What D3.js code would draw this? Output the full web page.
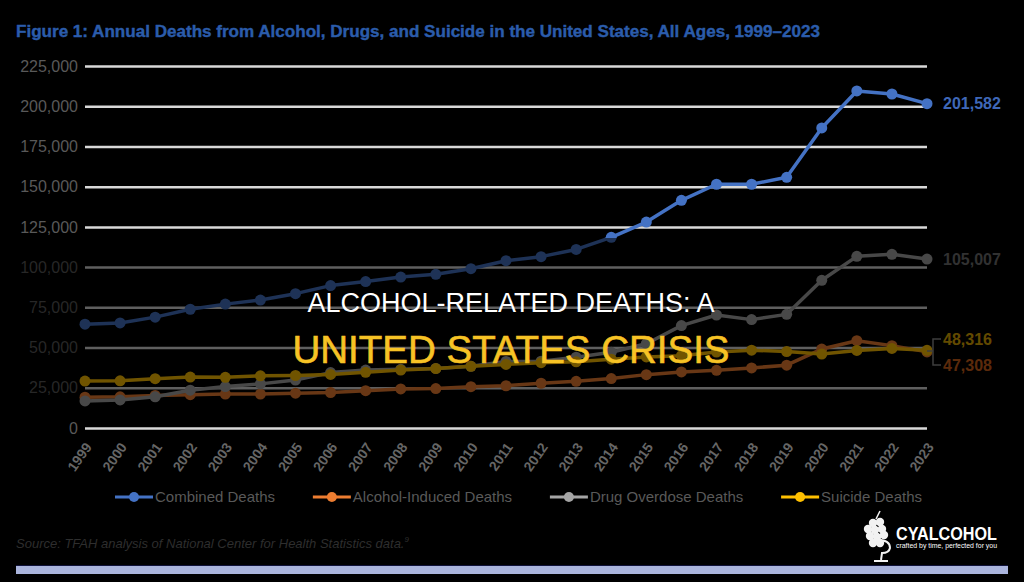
<!DOCTYPE html>
<html><head><meta charset="utf-8">
<script src="https://cdn.jsdelivr.net/npm/d3@7"></script>
<style>body{margin:0;background:#000;} svg{display:block;font-family:"Liberation Sans",Arial,sans-serif;}</style>
</head><body>
<svg id="chart" width="1024" height="582"></svg>
<script>
const years = ["1999","2000","2001","2002","2003","2004","2005","2006","2007","2008","2009","2010","2011","2012","2013","2014","2015","2016","2017","2018","2019","2020","2021","2022","2023"];
const combinedDeaths = [64500,65300,68900,73800,77000,79500,83500,88500,91000,93800,95500,99000,104000,106500,111000,118500,128000,141500,151500,151500,155800,186500,209500,207600,201582];
const alcoholDeaths = [19171,19358,20242,20698,21081,21081,21634,22073,23199,24297,24518,25692,26256,27822,29001,30722,33171,34865,35823,37329,39043,49061,54258,51191,47308];
const drugDeaths = [16849,17415,19394,23518,25785,27424,29813,34425,36010,36450,37004,38329,41340,41502,43982,47055,52404,63632,70237,67367,70630,91799,106699,107941,105007];
const suicideDeaths = [29199,29350,30622,31655,31484,32439,32637,33300,34598,36035,36909,38364,39518,40600,41149,42773,44193,44965,47173,48344,47511,45979,48183,49476,48316];
const seriesNames = ["Combined Deaths","Alcohol-Induced Deaths","Drug Overdose Deaths","Suicide Deaths"];
const seriesColors = ["#4472C4","#ED7D31","#A5A5A5","#FFC000"];
const labelColors = ["#3F68B8","#D0601A","#707070","#E0A800"];
const yTicks = [0,25000,50000,75000,100000,125000,150000,175000,200000,225000];
const titleText = "Figure 1: Annual Deaths from Alcohol, Drugs, and Suicide in the United States, All Ages, 1999\u20132023";
const sourceText = "Source: TFAH analysis of National Center for Health Statistics data.";
const headline1 = "ALCOHOL-RELATED DEATHS: A";
const headline2 = "UNITED STATES CRISIS";

const seriesData = [combinedDeaths, alcoholDeaths, drugDeaths, suicideDeaths];
const svg = d3.select("#chart");
const W = 1024, H = 582;

svg.append("rect").attr("width",W).attr("height",H).attr("fill","#000");

const x = d3.scalePoint().domain(years).range([85, 927]);
const y = d3.scaleLinear().domain([0,225000]).range([428, 66]);

// title
svg.append("text").attr("x",16).attr("y",37)
  .attr("font-size",16).attr("font-weight","bold").attr("fill","#2B5CAB")
  .attr("stroke","#2B5CAB").attr("stroke-width",0.4)
  .attr("textLength",804).attr("lengthAdjust","spacingAndGlyphs")
  .text(titleText);

// gridlines + y labels
const yAxis = d3.axisLeft(y).tickValues(yTicks).tickFormat(d3.format(",")).tickSize(-(927-85)).tickPadding(7);
const gy = svg.append("g").attr("transform","translate(85,0)").call(yAxis);
gy.select(".domain").remove();
gy.selectAll(".tick line").attr("stroke","#D9D9D9").attr("stroke-width",2.5);
gy.selectAll(".tick text").attr("fill","#595959").attr("font-size",16).attr("font-family","Liberation Sans, Arial, sans-serif");

// x axis labels
const xAxis = d3.axisBottom(x).tickSize(0).tickPadding(0);
const gx = svg.append("g").attr("transform","translate(0,428)").call(xAxis);
gx.select(".domain").remove();
gx.selectAll(".tick text")
  .attr("fill","#666666").attr("font-size",14).attr("font-weight","bold")
  .attr("font-family","Liberation Sans, Arial, sans-serif")
  .attr("text-anchor","end").attr("dy",0).attr("y",0)
  .attr("transform","translate(7,19) rotate(-55)");

// lines
const line = d3.line().x((d,i)=>x(years[i])).y(d=>y(d));
seriesData.forEach((arr, si) => {
  const g = svg.append("g");
  g.append("path").datum(arr).attr("d", line).attr("fill","none")
    .attr("stroke", seriesColors[si]).attr("stroke-width",3.5).attr("stroke-linejoin","round");
  g.selectAll("circle").data(arr).join("circle")
    .attr("cx",(d,i)=>x(years[i])).attr("cy",d=>y(d)).attr("r",5.5).attr("fill",seriesColors[si]);
});

// end labels
const lastX = x(years[years.length-1]);
const last = seriesData.map(a=>a[a.length-1]);
const fmt = d3.format(",");
const endG = svg.append("g").attr("font-size",16).attr("font-weight","bold");
endG.append("text").attr("x",lastX+16).attr("y",y(last[0])).attr("dy","0.35em").attr("fill",labelColors[0]).text(fmt(last[0]));
endG.append("text").attr("x",lastX+16).attr("y",y(last[2])).attr("dy","0.35em").attr("fill",labelColors[2]).text(fmt(last[2]));
const midY = (y(last[1])+y(last[3]))/2;
endG.append("text").attr("x",lastX+16).attr("y",midY-12).attr("dy","0.35em").attr("fill",labelColors[3]).text(fmt(last[3]));
endG.append("text").attr("x",lastX+16).attr("y",midY+14).attr("dy","0.35em").attr("fill",labelColors[1]).text(fmt(last[1]));
svg.append("path")
  .attr("d",`M${lastX},${midY} H${lastX+6} M${lastX+14},${midY-12} H${lastX+6} V${midY+14} H${lastX+14}`)
  .attr("fill","none").attr("stroke","#8C8C8C").attr("stroke-width",1.5);

// legend
const legG = svg.append("g").attr("font-size",15).attr("fill","#595959");
const items = seriesNames.map((n,i)=>{
  const g = legG.append("g");
  g.append("line").attr("x1",0).attr("x2",38).attr("y1",0).attr("y2",0).attr("stroke",seriesColors[i]).attr("stroke-width",3);
  g.append("circle").attr("cx",19).attr("cy",0).attr("r",5).attr("fill",seriesColors[i]);
  const t = g.append("text").attr("x",40).attr("dy","0.35em").text(n);
  return {g, w: 40 + t.node().getComputedTextLength()};
});
const legStart = 115, legEnd = 922;
const totalW = d3.sum(items, d=>d.w);
const gap = (legEnd - legStart - totalW)/(items.length-1);
let cx = legStart;
items.forEach(it=>{ it.g.attr("transform",`translate(${cx},497)`); cx += it.w + gap; });

// dark band overlay
svg.append("rect").attr("x",0).attr("y",238).attr("width",W).attr("height",175)
  .attr("fill","#000").attr("opacity",0.56);

// headline overlay text
svg.append("text").attr("x",511).attr("y",312).attr("text-anchor","middle")
  .attr("font-size",27).attr("fill","#FFFFFF").text(headline1);
svg.append("text").attr("x",511).attr("y",363).attr("text-anchor","middle")
  .attr("font-size",38.5).attr("fill","#F7C325").attr("stroke","#F7C325").attr("stroke-width",0.6).text(headline2);

// source
const src = svg.append("text").attr("x",16).attr("y",548).attr("font-size",13)
  .attr("font-style","italic").attr("fill","#2E2E2E");
src.append("tspan").text(sourceText);
src.append("tspan").attr("font-size",8).attr("dy",-6).text("9");

// bottom bar
svg.append("rect").attr("x",16).attr("y",565).attr("width",992).attr("height",1.5).attr("fill","#10123a");
svg.append("rect").attr("x",16).attr("y",566).attr("width",992).attr("height",8).attr("fill","#AAB4DC");

// logo
const logo = svg.append("g");
const grapes = [[873,523],[880,522],[868,529],[875,530],[882,529],[870,536],[877,537],[884,535],[873,543],[880,543]];
logo.selectAll("circle.g").data(grapes).join("circle").attr("cx",d=>d[0]).attr("cy",d=>d[1]).attr("r",4.2).attr("fill","#F2F2F2");
logo.append("path").attr("d","M876,519 L880,511").attr("stroke","#F2F2F2").attr("stroke-width",1.5);
logo.append("path").attr("d","M878,540 Q890,540 890,548 Q889,553 882,553 L881,560 M874,561 L888,561")
  .attr("fill","none").attr("stroke","#F2F2F2").attr("stroke-width",2);
logo.append("text").attr("x",896).attr("y",540).attr("font-size",18).attr("font-weight","bold")
  .attr("fill","#FFFFFF").attr("textLength",101).attr("lengthAdjust","spacingAndGlyphs").text("CYALCOHOL");
logo.append("text").attr("x",896).attr("y",548).attr("font-size",6.5)
  .attr("fill","#FFFFFF").attr("textLength",101).attr("lengthAdjust","spacingAndGlyphs").text("crafted by time, perfected for you");
</script>
</body></html>
